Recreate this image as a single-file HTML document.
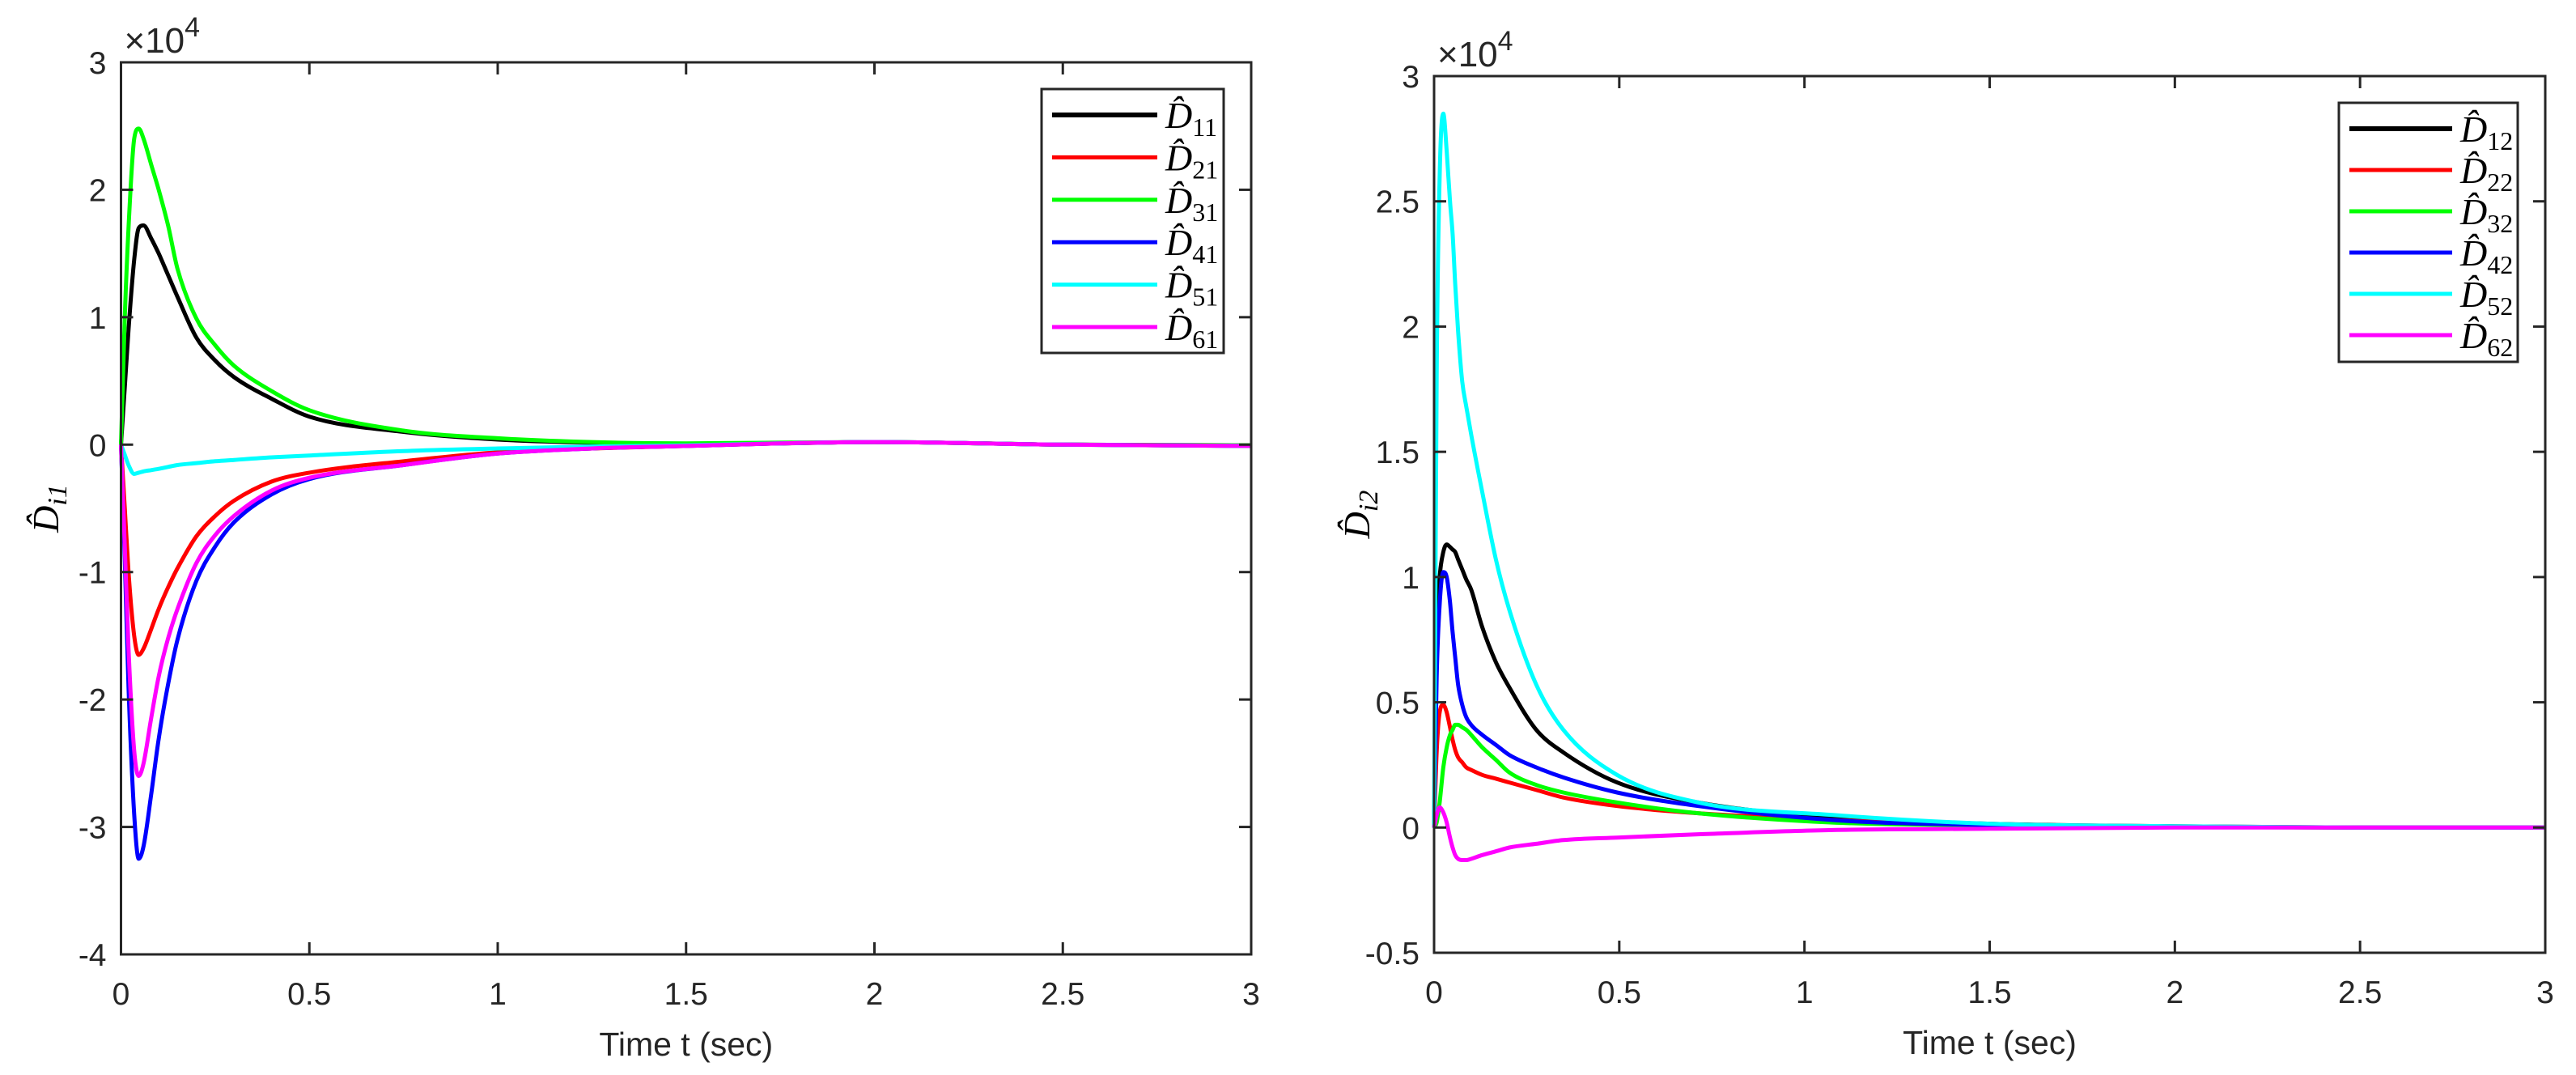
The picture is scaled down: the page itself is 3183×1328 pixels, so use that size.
<!DOCTYPE html>
<html><head><meta charset="utf-8"><style>
html,body{margin:0;padding:0;background:#fff;}
svg{display:block;}
text{font-family:"Liberation Sans",sans-serif;fill:#262626;}
.math{font-family:"Liberation Serif",serif;font-style:italic;fill:#000;}
</style></head><body>
<svg id="fig" width="3183" height="1328" viewBox="0 0 3183 1328" xmlns="http://www.w3.org/2000/svg"></svg>
<script>
const leftT=[0,0.01,0.02,0.035,0.047,0.06,0.08,0.1,0.125,0.15,0.2,0.25,0.3,0.4,0.5,0.75,1,1.25,1.5,1.75,2,2.5,3];
const leftD11=[0,0.45,0.9,1.45,1.7,1.72,1.62,1.50,1.33,1.16,0.84,0.66,0.53,0.36,0.22,0.10,0.04,0.015,0.005,0.01,0.02,0,-0.005];
const leftD21=[0,-0.5,-1.0,-1.5,-1.65,-1.6,-1.45,-1.29,-1.12,-0.97,-0.72,-0.56,-0.44,-0.29,-0.22,-0.13,-0.06,-0.03,-0.01,0.01,0.02,0,-0.01];
const leftD31=[0,1.0,1.7,2.4,2.48,2.4,2.2,2.0,1.72,1.38,0.99,0.78,0.62,0.42,0.27,0.11,0.05,0.02,0.01,0.015,0.02,0,-0.005];
const leftD41=[0,-0.9,-1.9,-2.9,-3.25,-3.15,-2.75,-2.31,-1.88,-1.53,-1.07,-0.80,-0.61,-0.39,-0.27,-0.16,-0.07,-0.03,-0.01,0.01,0.02,0,-0.01];
const leftD51=[0,-0.08,-0.16,-0.23,-0.22,-0.21,-0.2,-0.19,-0.175,-0.16,-0.145,-0.13,-0.12,-0.10,-0.085,-0.05,-0.03,-0.015,-0.005,0.01,0.02,0,-0.01];
const leftD61=[0,-0.8,-1.6,-2.4,-2.6,-2.5,-2.15,-1.82,-1.52,-1.29,-0.93,-0.71,-0.56,-0.36,-0.26,-0.16,-0.07,-0.03,-0.01,0.01,0.02,0,-0.01];
const rightT=[0,0.007,0.015,0.025,0.034,0.043,0.05,0.057,0.065,0.076,0.087,0.1,0.13,0.167,0.203,0.276,0.349,0.494,0.713,1.076,1.5,2,2.5,3];
const rightD12=[0,0.78,1.0,1.10,1.13,1.12,1.11,1.10,1.07,1.03,0.99,0.95,0.80,0.66,0.56,0.39,0.30,0.18,0.10,0.04,0.015,0.005,0,0];
const rightD22=[0,0.3,0.46,0.49,0.46,0.40,0.35,0.31,0.28,0.26,0.24,0.23,0.21,0.195,0.18,0.15,0.12,0.086,0.057,0.03,0.01,0.003,0,0];
const rightD32=[0,0.02,0.1,0.24,0.32,0.37,0.39,0.41,0.41,0.40,0.39,0.37,0.32,0.27,0.22,0.17,0.14,0.10,0.057,0.02,0.008,0.002,0,0];
const rightD42=[0,0.6,0.89,1.02,1.0,0.9,0.78,0.68,0.57,0.49,0.44,0.41,0.37,0.33,0.29,0.24,0.20,0.14,0.086,0.03,0.01,0.003,0,0];
const rightD52=[0,1.8,2.6,2.85,2.7,2.5,2.37,2.17,1.98,1.78,1.68,1.57,1.34,1.07,0.87,0.57,0.39,0.21,0.10,0.05,0.015,0.005,0,0];
const rightD62=[0,0.05,0.08,0.06,0.02,-0.04,-0.08,-0.11,-0.125,-0.13,-0.13,-0.125,-0.11,-0.095,-0.08,-0.065,-0.05,-0.04,-0.027,-0.01,-0.005,0,0,0];
const xTicks=[0,0.5,1,1.5,2,2.5,3];
const xTickLabels=["0","0.5","1","1.5","2","2.5","3"];
const leftYTicks=[-4,-3,-2,-1,0,1,2,3];
const leftYLabels=["-4","-3","-2","-1","0","1","2","3"];
const rightYTicks=[-0.5,0,0.5,1,1.5,2,2.5,3];
const rightYLabels=["-0.5","0","0.5","1","1.5","2","2.5","3"];
const colors=["#000000","#ff0000","#00ff00","#0000ff","#00ffff","#ff00ff"];

const NS="http://www.w3.org/2000/svg";
const svg=document.getElementById('fig');
function mk(tag,attrs,parent){const e=document.createElementNS(NS,tag);for(const k in attrs)e.setAttribute(k,attrs[k]);(parent||svg).appendChild(e);return e;}

function smoothPath(xs,ys){
  const n=xs.length,d=[],m=new Array(n);
  for(let i=0;i<n-1;i++)d.push((ys[i+1]-ys[i])/(xs[i+1]-xs[i]));
  m[0]=d[0];m[n-1]=d[n-2];
  for(let i=1;i<n-1;i++){m[i]=(d[i-1]*d[i]<=0)?0:(d[i-1]+d[i])/2;}
  for(let i=0;i<n-1;i++){
    if(d[i]===0){m[i]=0;m[i+1]=0;continue;}
    const a=m[i]/d[i],b=m[i+1]/d[i],s=a*a+b*b;
    if(s>9){const t=3/Math.sqrt(s);m[i]=t*a*d[i];m[i+1]=t*b*d[i];}
  }
  let p=`M${xs[0].toFixed(1)},${ys[0].toFixed(1)}`;
  for(let i=0;i<n-1;i++){
    const h=(xs[i+1]-xs[i])/3;
    p+=` C${(xs[i]+h).toFixed(1)},${(ys[i]+m[i]*h).toFixed(1)} ${(xs[i+1]-h).toFixed(1)},${(ys[i+1]-m[i+1]*h).toFixed(1)} ${xs[i+1].toFixed(1)},${ys[i+1].toFixed(1)}`;
  }
  return p;
}

function drawPanel(cfg){
  const g=mk('g',{});
  
  
  const {x0,x1,y0,y1,ymin,ymax}=cfg;
  const sx=t=>x0+(t-0)/(3-0)*(x1-x0);
  const sy=v=>y1-(v-ymin)/(ymax-ymin)*(y1-y0);
  const sg=mk('g',{},g);
  
  
  cfg.series.forEach((s,i)=>{
    const xs=cfg.t.map(sx),ys=s.map(sy);
    const pl=mk('path',{d:smoothPath(xs,ys),fill:'none',stroke:colors[i],'stroke-width':5,'stroke-linejoin':'round'},sg);
    
    
  });
  const box=mk('rect',{x:x0,y:y0,width:x1-x0,height:y1-y0,fill:'none',stroke:'#262626','stroke-width':3},g);
  
  
  xTicks.forEach((t,i)=>{
    const x=sx(t);
    mk('line',{x1:x,y1:y1,x2:x,y2:y1-15,stroke:'#262626','stroke-width':3},g);
    mk('line',{x1:x,y1:y0,x2:x,y2:y0+15,stroke:'#262626','stroke-width':3},g);
    const tx=mk('text',{x:x,y:y1+62,'font-size':39,'text-anchor':'middle'},g);
    tx.textContent=xTickLabels[i];
    
    
  });
  cfg.yTicks.forEach((v,i)=>{
    const y=sy(v);
    mk('line',{x1:x0,y1:y,x2:x0+15,y2:y,stroke:'#262626','stroke-width':3},g);
    mk('line',{x1:x1,y1:y,x2:x1-15,y2:y,stroke:'#262626','stroke-width':3},g);
    const ty=mk('text',{x:x0-18,y:y+14,'font-size':39,'text-anchor':'end'},g);
    ty.textContent=cfg.yLabels[i];
    
    
  });
  const ex=mk('text',{x:x0+4,y:y0-12,'font-size':44},g);
  
  
  ex.innerHTML='×10<tspan dy="-20" font-size="34">4</tspan>';
  const xt=mk('text',{x:(x0+x1)/2,y:y1+125,'font-size':41,'text-anchor':'middle'},g);
  xt.textContent='Time t (sec)';
  
  
  const yt=mk('text',{class:'math','font-size':46,transform:`translate(${cfg.ylx},${(y0+y1)/2}) rotate(-90)`,'text-anchor':'middle'},g);
  yt.innerHTML=`<tspan>D̂</tspan><tspan dy="10" font-size="34">${cfg.ysub}</tspan>`;
  
  
  const L=cfg.legend;
  const lg=mk('g',{},g);
  
  
  mk('rect',{x:L.x,y:L.y,width:L.w,height:L.h,fill:'#fff',stroke:'#262626','stroke-width':3},lg);
  cfg.labels.forEach((lab,i)=>{
    const y=L.r0+i*L.dy;
    const e=mk('g',{},lg);
    
    
    mk('line',{x1:L.lx0,y1:y,x2:L.lx1,y2:y,stroke:colors[i],'stroke-width':i===0?6:5},e);
    const tt=mk('text',{x:L.tx,y:y+16,class:'math','font-size':46},e);
    tt.innerHTML=`D̂<tspan dy="10" font-size="32" font-style="normal">${lab}</tspan>`;
  });
}

drawPanel({name:'left-chart',x0:149.5,x1:1546,y0:77,y1:1179,ymin:-4,ymax:3,t:leftT,
  series:[leftD11,leftD21,leftD31,leftD41,leftD51,leftD61],labels:['11','21','31','41','51','61'],
  yTicks:leftYTicks,yLabels:leftYLabels,ysub:'i1',ylx:72,
  legend:{x:1287,y:110,w:225,h:326,r0:142,dy:52.4,lx0:1300,lx1:1430,tx:1440}});
drawPanel({name:'right-chart',x0:1772,x1:3145,y0:94,y1:1177,ymin:-0.5,ymax:3,t:rightT,
  series:[rightD12,rightD22,rightD32,rightD42,rightD52,rightD62],labels:['12','22','32','42','52','62'],
  yTicks:rightYTicks,yLabels:rightYLabels,ysub:'i2',ylx:1692,
  legend:{x:2890,y:127,w:221,h:320,r0:159,dy:51,lx0:2903,lx1:3030,tx:3040}});
</script>
</body></html>
